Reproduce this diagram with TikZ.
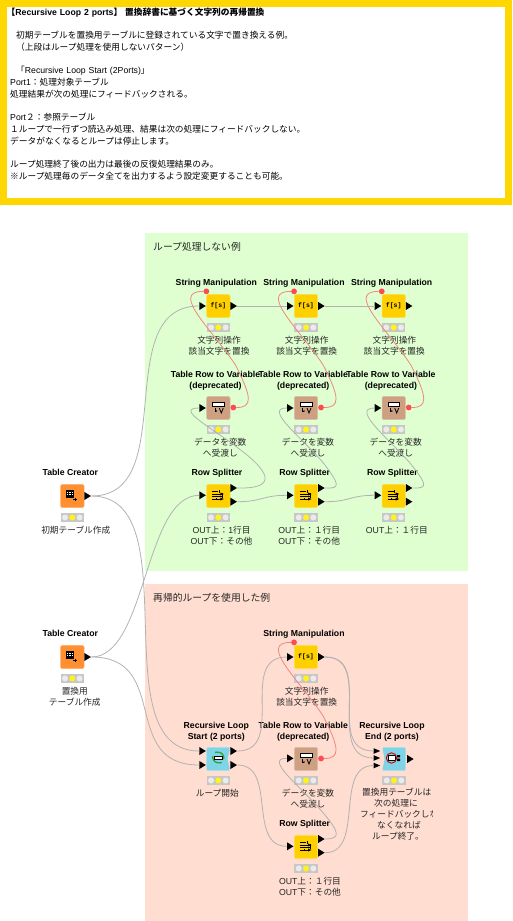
\documentclass[tikz,border=0pt]{standalone}
\usepackage{fontspec}
\setmainfont{Liberation Sans}
\setmonofont{Liberation Mono}
\newfontfamily\jp{Noto Sans CJK JP}
\usepackage{tikz}
\usetikzlibrary{positioning, arrows.meta, shapes.geometric, calc}
\definecolor{framegold}{RGB}{255, 215, 0}
\definecolor{panelgreen}{RGB}{223, 255, 208}
\definecolor{panelpink}{RGB}{255, 221, 208}
\definecolor{nodeyellow}{RGB}{255, 208, 0}
\definecolor{nodeorange}{RGB}{255, 143, 48}
\definecolor{nodetan}{RGB}{205, 160, 130}
\definecolor{nodecyan}{RGB}{128, 212, 232}
\definecolor{wiregrey}{RGB}{178, 178, 178}
\definecolor{wirered}{RGB}{240, 135, 130}
\definecolor{dotred}{RGB}{255, 75, 80}
\tikzset{
  knode/.style={rectangle, rounded corners=1.5pt, minimum size=23.4pt, inner sep=0pt, line width=0.5pt},
  lampbar/.style={rectangle, fill=black!22, minimum width=23.4pt, minimum height=8.6pt, inner sep=0pt},
  port/.style={isosceles triangle, isosceles triangle stretches, fill=black, inner sep=0pt, minimum width=8pt, minimum height=6.5pt},
  smallport/.style={port, minimum width=5.5pt},
  vardot/.style={circle, fill=dotred, minimum size=5.8pt, inner sep=0pt},
  nodetitle/.style={font=\fontsize{8.7}{11}\selectfont\bfseries, align=center, inner sep=0pt},
  nodenote/.style={font=\fontsize{8.7}{11.4}\selectfont, align=center, inner sep=0pt, text=black!85},
  paneltitle/.style={font=\jp\fontsize{9.8}{12}\selectfont, anchor=west, inner sep=0pt, text=black!85},
  flow/.style={draw=wiregrey, line width=0.8pt},
  varflow/.style={draw=wirered, line width=0.8pt},
  icon/.style={line width=0.6pt, draw=black},
  lamps/.pic={
    \fill[black!8] (-7.3,0) circle (3);
    \fill[yellow!90!white] (0,0) circle (3);
    \fill[black!8] (7.3,0) circle (3);
  },
  tableicon/.pic={
    \draw[icon, fill=white] (-6.3,-6) rectangle (1,1.7);
    \fill (-6.3,-6) rectangle (1,-4.4);
    \foreach \g in {-3,-1,0.6} \draw[line width=0.3pt] (-6.3,\g) -- (1,\g);
    \foreach \g in {-4,-1.6} \draw[line width=0.3pt] (\g,-6) -- (\g,1.7);
    \draw[line width=1pt] (0.9,3.3) -- (4.5,3.3) (2.7,1.5) -- (2.7,5.1);
  },
  rowvaricon/.pic={
    \draw[icon, fill=white] (-5.7,-5.5) rectangle (6,-1.3);
    \draw[line width=1pt] (-5.7,-5.5) -- (6,-5.5);
    \draw[icon, -{Latex[length=2pt]}] (-3.5,0) -- (-3.5,3) -- (-0.5,3);
    \draw[icon, line width=0.8pt] (1,0) -- (3,5) -- (5,0);
  },
  splitticon/.pic={
    \draw[icon] (-6,-4.5) -- (0,-4.5) (-6,-2) -- (4,-2) (-6,0.5) -- (4,0.5) (-6,3) -- (4,3);
    \draw[icon] (-2,2) -- (-2,3.5) (1,-6) -- (1,-3) (3.8,-3) -- (3.8,2);
    \fill (2,-3.5) -- (5.5,-2) -- (2,-0.5) -- cycle;
    \fill (2,1.5) -- (5.5,3) -- (2,4.5) -- cycle;
  },
  loopicon/.pic={
    \draw[line width=1.3pt, draw=green!55!black!80, -{Latex[length=2.5pt]}] (-5.5,-2) arc (190:50:5.8);
    \draw[line width=1.3pt, draw=green!55!black!80, -{Latex[length=2.5pt]}] (5.5,1) arc (10:-130:5.8);
    \draw[icon, fill=white] (-4.5,-2) rectangle (3.5,1);
  },
  endicon/.pic={
    \draw[icon, fill=white] (-6,-2.3) rectangle (1,2.3);
    \draw[line width=0.9pt, draw=red!80!black] (-2.5,0) circle (5.2);
    \fill (3,-3) rectangle (6,-0.6) (3,0.6) rectangle (6,3);
  },
}
\newcommand{\knimebox}[4]{%
  \node[knode, fill=#3, draw=#3!70!white] (#1) at (#2) {#4};
  \node[lampbar, below=5pt of #1] (#1lamp) {};
  \pic at (#1lamp) {lamps};
}
\newcommand{\varwire}[2]{%
  \draw[varflow] (#1.east) .. controls +(16,0) and +(17,33) .. ($(#1.east)+(-1,-42.5)$)
    .. controls +(-23,-35) and +(-34,0) .. (#2.west);
}
\newcommand{\fs}{\ttfamily\bfseries\fontsize{6.5}{7}\selectfont f[s]}
\begin{document}
\begin{tikzpicture}[x=1pt, y=-1pt]
  \useasboundingbox (0,0) rectangle (512,921);
  % info box
  \fill[framegold] (0,0) rectangle (512,205);
  \fill[white] (7.3,7.3) rectangle (504.7,198);
  \node[anchor=north west, inner sep=0pt, align=left, text width=490pt,
        font=\fontsize{8.7}{11.72}\selectfont] (infotext) at (6.5,7.5) {%
    {\bfseries{\jp\bfseries 【}Recursive Loop 2 ports{\jp\bfseries 】\hspace{3pt}置換辞書に基づく文字列の再帰置換}}\\
    \mbox{}\\
    \hspace*{9.5pt}{\jp 初期テーブルを置換用テーブルに登録されている文字で置き換える例。}\\
    \hspace*{9.5pt}{\jp （上段はループ処理を使用しないパターン）}\\
    \mbox{}\\
    \hspace*{9.5pt}{\jp 「}Recursive Loop Start (2Ports){\jp 」}\\
    \hspace*{3.5pt}Port1{\jp ：処理対象テーブル}\\
    \hspace*{3.5pt}{\jp 処理結果が次の処理にフィードバックされる。}\\
    \mbox{}\\
    \hspace*{3.5pt}Port{\jp ２：参照テーブル}\\
    \hspace*{3.5pt}{\jp １ループで一行ずつ読込み処理、結果は次の処理にフィードバックしない。}\\
    \hspace*{3.5pt}{\jp データがなくなるとループは停止します。}\\
    \mbox{}\\
    \hspace*{3.5pt}{\jp ループ処理終了後の出力は最後の反復処理結果のみ。}\\
    \hspace*{3.5pt}{\jp ※ループ処理毎のデータ全てを出力するよう設定変更することも可能。}
  };
  % panels
  \fill[panelgreen] (145,233) rectangle (468,570.5);
  \fill[panelpink] (145,584) rectangle (468,921);
  \node[paneltitle] (greentitle) at (153,247) {ループ処理しない例};
  \node[paneltitle] (pinktitle) at (153,598) {再帰的ループを使用した例};
  % table creators
  \knimebox{tcone}{72.3,496}{nodeorange}{}
  \pic at (tcone) {tableicon};
  \node[port, right=0pt of tcone] (tconeout) {};
  \node[nodetitle, above=8pt of tcone, xshift=-2pt] (tconetitle) {Table Creator};
  \node[nodenote, below=4pt of tconelamp, xshift=3.5pt] (tconenote) {\jp 初期テーブル作成};
  \knimebox{tctwo}{72.3,657}{nodeorange}{}
  \pic at (tctwo) {tableicon};
  \node[port, right=0pt of tctwo] (tctwoout) {};
  \node[nodetitle, above=8pt of tctwo, xshift=-2pt] (tctwotitle) {Table Creator};
  \node[nodenote, below=4pt of tctwolamp, xshift=2.5pt] (tctwonote) {\jp 置換用\\\jp テーブル作成};
  % non-loop columns
  \foreach \i/\x/\note in {1/218.3/{OUT{\jp 上：}1{\jp 行目}\\OUT{\jp 下：その他}},
                           2/306/{OUT{\jp 上：１行目}\\OUT{\jp 下：その他}},
                           3/393.7/{OUT{\jp 上：１行目}}} {
    \knimebox{sm\i}{\x,306}{nodeyellow}{\fs}
    \node[port, left=0pt of sm\i] (sm\i in) {};
    \node[port, right=0pt of sm\i] (sm\i out) {};
    \node[vardot, yshift=2.7pt] (sm\i var) at (sm\i.north west) {};
    \node[nodetitle, above=6.4pt of sm\i, xshift=-2pt] (sm\i title) {String Manipulation};
    \node[nodenote, below=4pt of sm\i lamp, xshift=0.7pt] (sm\i note) {\jp 文字列操作\\\jp 該当文字を置換};
    \knimebox{tr\i}{\x,408}{nodetan}{}
    \pic at (tr\i) {rowvaricon};
    \node[port, left=0pt of tr\i] (tr\i in) {};
    \node[vardot, right=0pt of tr\i, yshift=0.5pt] (tr\i var) {};
    \node[nodetitle, above=5.8pt of tr\i, xshift=-2.8pt] (tr\i title) {Table Row to Variable\\(deprecated)};
    \node[nodenote, below=4pt of tr\i lamp, xshift=2pt] (tr\i note) {\jp データを変数\\\jp へ受渡し};
    \knimebox{rs\i}{\x,496}{nodeyellow}{}
    \pic at (rs\i) {splitticon};
    \node[port, left=0pt of rs\i, yshift=0.7pt] (rs\i in) {};
    \node[port, right=0pt of rs\i, yshift=8pt] (rs\i top) {};
    \node[port, right=0pt of rs\i, yshift=-5.7pt] (rs\i low) {};
    \node[nodetitle, above=6.4pt of rs\i, xshift=-1.3pt] (rs\i title) {Row Splitter};
    \node[nodenote, below=4pt of rs\i lamp, xshift=3.2pt, anchor=north] (rs\i note) {\note};
  }
  % recursive loop column
  \knimebox{smloop}{306,657}{nodeyellow}{\fs}
  \node[port, left=0pt of smloop] (smloopin) {};
  \node[port, right=0pt of smloop] (smloopout) {};
  \node[vardot, yshift=2.7pt] (smloopvar) at (smloop.north west) {};
  \node[nodetitle, above=6.4pt of smloop, xshift=-2pt] (smlooptitle) {String Manipulation};
  \node[nodenote, below=4pt of smlooplamp, xshift=0.7pt] (smloopnote) {\jp 文字列操作\\\jp 該当文字を置換};
  \knimebox{trloop}{306,759}{nodetan}{}
  \pic at (trloop) {rowvaricon};
  \node[port, left=0pt of trloop, yshift=0.7pt] (trloopin) {};
  \node[vardot, right=0pt of trloop, yshift=0.5pt] (trloopvar) {};
  \node[nodetitle, above=5.8pt of trloop, xshift=-2.8pt] (trlooptitle) {Table Row to Variable\\(deprecated)};
  \node[nodenote, below=4pt of trlooplamp, xshift=2pt] (trloopnote) {\jp データを変数\\\jp へ受渡し};
  \knimebox{rsloop}{306,847}{nodeyellow}{}
  \pic at (rsloop) {splitticon};
  \node[port, left=0pt of rsloop, yshift=0.7pt] (rsloopin) {};
  \node[port, right=0pt of rsloop, yshift=8pt] (rsloopout) {};
  \node[port, right=0pt of rsloop, yshift=-5.7pt] (rslooplow) {};
  \node[nodetitle, above=6.4pt of rsloop, xshift=-1.3pt] (rslooptitle) {Row Splitter};
  \node[nodenote, below=4pt of rslooplamp, xshift=4pt] (rsloopnote) {OUT{\jp 上：１行目}\\OUT{\jp 下：その他}};
  % loop start and end
  \knimebox{lstart}{218.3,759}{nodecyan}{}
  \fill[panelpink] (lstart.north east) -- ($(lstart.east)+(-2.5,0)$) -- (lstart.south east) -- cycle;
  \pic at ($(lstart)+(0,-1)$) {loopicon};
  \node[port, left=0pt of lstart, yshift=8pt] (lstartinone) {};
  \node[port, left=0pt of lstart, yshift=-6pt] (lstartintwo) {};
  \node[port, right=0pt of lstart, yshift=8pt] (lstartoutone) {};
  \node[port, right=0pt of lstart, yshift=-6pt] (lstartouttwo) {};
  \node[nodetitle, above=5.8pt of lstart, xshift=-2pt] (lstarttitle) {Recursive Loop\\Start (2 ports)};
  \node[nodenote, below=4pt of lstartlamp, xshift=-1pt] (lstartnote) {\jp ループ開始};
  \knimebox{lend}{394,759}{nodecyan}{}
  \fill[panelpink] (lend.north west) -- ($(lend.west)+(2.5,0)$) -- (lend.south west) -- cycle;
  \pic at ($(lend)+(0,-1)$) {endicon};
  \node[smallport, left=1.3pt of lend, yshift=8pt] (lendinone) {};
  \node[smallport, left=1.3pt of lend, yshift=1pt] (lendintwo) {};
  \node[smallport, left=1.3pt of lend, yshift=-6.5pt] (lendinthree) {};
  \node[port, right=1pt of lend] (lendout) {};
  \node[nodetitle, above=5.8pt of lend, xshift=-2pt] (lendtitle) {Recursive Loop\\End (2 ports)};
  \begin{scope}
    \clip (355,782) rectangle (432.7,850);
    \node[nodenote, anchor=north west, align=left, font=\jp\fontsize{8.7}{11}\selectfont] (lendnote) at (360,788) {%
      \hspace*{.5pt}\,置換用テーブルは\\
      \hspace*{14pt}次の処理に\\
      フィードバックしな\\
      \hspace*{17pt}なくなれば\\
      \hspace*{12pt}ループ終了。};
  \end{scope}
  % connectors
  \draw[flow] (tconeout.east) .. controls +(90,0) and +(-90,0) .. (sm1in.west);
  \draw[flow] (tconeout.east) .. controls +(100,0) and +(-100,0) .. (lstartinone.west);
  \draw[flow] (tctwoout.east) .. controls +(55,0) and +(-55,0) .. (rs1in.west);
  \draw[flow] (tctwoout.east) .. controls +(80,0) and +(-80,0) .. (lstartintwo.west);
  \draw[flow] (sm1out.east) -- (sm2in.west);
  \draw[flow] (sm2out.east) -- (sm3in.west);
  \draw[flow] (rs1low.east) .. controls +(25,0) and +(-25,0) .. (rs2in.west);
  \draw[flow] (rs2low.east) .. controls +(25,0) and +(-25,0) .. (rs3in.west);
  \draw[flow] (rs1top.east) .. controls (280,489) and (268,470) .. (238,448)
    .. controls (212,428) and (174,408) .. (tr1in.west);
  \draw[flow] (rs2top.east) .. controls (342,489) and (338,483) .. (325,465)
    .. controls (305,440) and (262,408) .. (tr2in.west);
  \draw[flow] (rs3top.east) .. controls (430,489) and (425,482) .. (410,463)
    .. controls (390,440) and (350,408) .. (tr3in.west);
  \draw[flow] (lstartoutone.east) .. controls +(50,0) and +(-50,0) .. (smloopin.west);
  \draw[flow] (lstartouttwo.east) .. controls +(40,0) and +(-40,0) .. (rsloopin.west);
  \draw[flow] (smloopout.east) .. controls +(50,0) and +(-50,0) .. (lendinone.west);
  \draw[flow] (smloopout.east) .. controls +(50,0) and +(-50,0) .. (lendintwo.west);
  \draw[flow] (rslooplow.east) .. controls +(40,0) and +(-40,0) .. (lendinthree.west);
  \draw[flow] (rsloopout.east) .. controls (342,839) and (338,831) .. (325,815)
    .. controls (305,790) and (262,758) .. (trloopin.west);
  \varwire{tr1var}{sm1var}
  \varwire{tr2var}{sm2var}
  \varwire{tr3var}{sm3var}
  \varwire{trloopvar}{smloopvar}
\end{tikzpicture}
\end{document}
